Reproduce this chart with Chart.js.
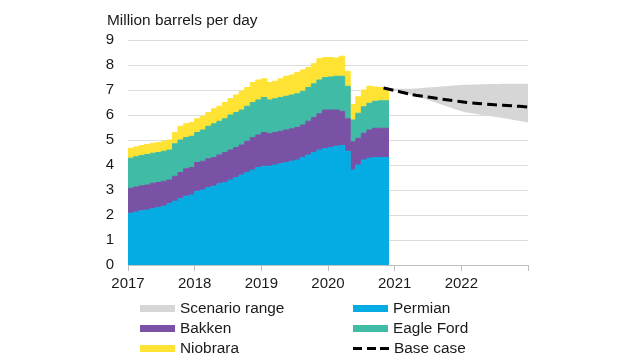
<!DOCTYPE html>
<html><head><meta charset="utf-8">
<script src="https://cdn.jsdelivr.net/npm/chart.js@4.4.0/dist/chart.umd.min.js"></script>
<style>
html,body{margin:0;padding:0;background:#fff;}
#wrap{position:relative;width:640px;height:361px;font-family:"Liberation Sans",Arial,sans-serif;color:#1a1a1a;overflow:hidden;}
canvas{position:absolute;left:0;top:0;}
.title{position:absolute;left:107px;top:11px;font-size:15.4px;white-space:nowrap;}
.leg{position:absolute;font-size:15.4px;line-height:18px;height:18px;display:flex;align-items:center;white-space:nowrap;}
.sw{width:35px;height:7px;margin-right:5px;}
.dash{width:36px;height:3px;margin-right:5px;display:flex;justify-content:space-between;}
.dash span{display:block;width:9px;height:3px;background:#000;}
</style></head><body>
<div id="wrap"><canvas id="c" width="640" height="361"></canvas>
<div class="title">Million barrels per day</div>
<div id="legend"></div></div>
<script>
// ---- data (million barrels per day), monthly from Jan 2017 to Nov 2020 ----
const histStart = '2017-01';
const permian = [2.07,2.12,2.17,2.20,2.25,2.30,2.35,2.45,2.55,2.65,2.75,2.80,
  2.95,3.00,3.10,3.15,3.25,3.30,3.40,3.50,3.60,3.70,3.80,3.90,
  3.95,3.95,4.00,4.05,4.10,4.15,4.20,4.30,4.40,4.50,4.60,4.65,
  4.70,4.75,4.78,4.55,3.80,4.00,4.20,4.27,4.30,4.30,4.30];
const bakken = [1.00,1.00,1.00,1.00,1.02,1.00,1.00,0.95,1.00,1.05,1.10,1.10,
  1.15,1.15,1.15,1.15,1.15,1.20,1.20,1.20,1.20,1.25,1.30,1.30,
  1.35,1.30,1.30,1.30,1.30,1.30,1.30,1.30,1.35,1.40,1.45,1.55,
  1.50,1.45,1.37,1.30,1.13,1.07,1.07,1.13,1.17,1.17,1.17];
const eagleFord = [1.20,1.21,1.21,1.22,1.20,1.20,1.20,1.20,1.30,1.30,1.25,1.25,
  1.20,1.25,1.30,1.35,1.35,1.35,1.40,1.40,1.40,1.40,1.40,1.40,
  1.40,1.35,1.35,1.35,1.35,1.35,1.35,1.35,1.35,1.35,1.35,1.30,
  1.32,1.35,1.40,1.30,0.87,1.00,1.06,1.07,1.08,1.10,1.10];
const niobrara = [0.40,0.39,0.40,0.40,0.40,0.40,0.40,0.40,0.45,0.55,0.55,0.55,
  0.55,0.55,0.55,0.60,0.60,0.65,0.65,0.70,0.75,0.75,0.80,0.80,
  0.75,0.70,0.70,0.75,0.80,0.80,0.85,0.85,0.80,0.80,0.85,0.80,
  0.78,0.73,0.80,0.60,0.62,0.66,0.67,0.68,0.57,0.53,0.51];
// ---- forecast ----
const fcDates   = ['2020-11','2021-01','2021-04','2021-07','2021-10','2022-01','2022-04','2022-07','2022-10','2023-01'];
const baseCase  = [7.08,6.98,6.82,6.72,6.62,6.53,6.46,6.41,6.37,6.32];
const rangeLow  = [7.08,7.00,6.80,6.60,6.38,6.15,6.03,5.93,5.82,5.70];
const rangeHigh = [7.08,7.05,7.05,7.10,7.15,7.20,7.22,7.24,7.25,7.25];
const yearLabels = ['2017','2018','2019','2020','2021','2022'];
const yTicks = [0,1,2,3,4,5,6,7,8,9];

const COLORS = {permian:'#05ABE3', bakken:'#7952A5', eagle:'#40BCA6', nio:'#FFE334', range:'#D6D6D6'};

function monthIndex(s){ const [y,m]=s.split('-').map(Number); const [y0,m0]=histStart.split('-').map(Number); return (y-y0)*12+(m-m0); }
function stepPts(arr){ const p=arr.map((v,i)=>({x:i,y:v})); p.push({x:arr.length,y:arr[arr.length-1]}); return p; }
function fcPts(arr){ return arr.map((v,i)=>({x:monthIndex(fcDates[i]),y:v})); }

function hist(label, arr, color, fill){
  return {label, data:stepPts(arr), stack:'hist', stepped:'before', fill, backgroundColor:color,
    borderColor:color, borderWidth:1, pointRadius:0, tension:0};
}

const datasets = [
  {label:'Base case', data:fcPts(baseCase), stack:'base', borderColor:'#000', borderWidth:3, borderDash:[10,5],
    pointRadius:0, fill:false, tension:0.3},
  {label:'Scenario range', data:fcPts(rangeHigh), stack:'hi', borderColor:'rgba(0,0,0,0)', borderWidth:0,
    backgroundColor:COLORS.range, pointRadius:0, fill:'+1', tension:0.3},
  {label:'low', data:fcPts(rangeLow), stack:'lo', borderColor:'rgba(0,0,0,0)', borderWidth:0, pointRadius:0, fill:false, tension:0.3},
  hist('Permian', permian, COLORS.permian, 'origin'),
  hist('Bakken', bakken, COLORS.bakken, '-1'),
  hist('Eagle Ford', eagleFord, COLORS.eagle, '-1'),
  hist('Niobrara', niobrara, COLORS.nio, '-1'),
];

new Chart(document.getElementById('c'), {
  type:'line',
  data:{datasets},
  options:{
    responsive:false, animation:false, devicePixelRatio:1,
    layout:{padding:{left:0,right:112,top:40,bottom:0}},
    plugins:{legend:{display:false}, tooltip:{enabled:false}},
    scales:{
      x:{type:'linear', min:0, max:72,
        afterBuildTicks:(s)=>{ s.ticks = yearLabels.map((_,i)=>({value:i*12})).concat([{value:72}]); },
        ticks:{callback:(v)=> yearLabels[v/12] || '', color:'#1a1a1a', font:{family:'"Liberation Sans", Arial, sans-serif', size:15}, padding:4, maxRotation:0, autoSkip:false},
        grid:{display:true, drawOnChartArea:false, drawTicks:true, tickLength:6, color:'#BFBFBF'},
        border:{display:true, color:'#BFBFBF', width:1},
        afterFit:(s)=>{ s.height = 96; }
      },
      y:{stacked:true, min:0, max:9,
        afterBuildTicks:(s)=>{ s.ticks = yTicks.map(v=>({value:v})); },
        ticks:{color:'#1a1a1a', font:{family:'"Liberation Sans", Arial, sans-serif', size:15}, padding:14},
        grid:{color:'#DCDCDC', drawTicks:false},
        border:{display:false},
        afterFit:(s)=>{ s.width = 128; }
      }
    }
  }
});

// ---- HTML legend ----
const legendItems = [
  {label:'Scenario range', color:COLORS.range, x:140, y:308},
  {label:'Permian', color:COLORS.permian, x:353, y:308},
  {label:'Bakken', color:COLORS.bakken, x:140, y:328},
  {label:'Eagle Ford', color:COLORS.eagle, x:353, y:328},
  {label:'Niobrara', color:COLORS.nio, x:140, y:348},
  {label:'Base case', dash:true, x:353, y:348},
];
const lg = document.getElementById('legend');
legendItems.forEach(it=>{
  const d=document.createElement('div'); d.className='leg';
  d.style.left=it.x+'px'; d.style.top=(it.y-9)+'px';
  const sw=document.createElement('div');
  if(it.dash){ sw.className='dash'; sw.innerHTML='<span></span><span></span><span></span>'; }
  else { sw.className='sw'; sw.style.background=it.color; }
  d.appendChild(sw);
  const t=document.createElement('span'); t.textContent=it.label; d.appendChild(t);
  lg.appendChild(d);
});
</script>
</body></html>
